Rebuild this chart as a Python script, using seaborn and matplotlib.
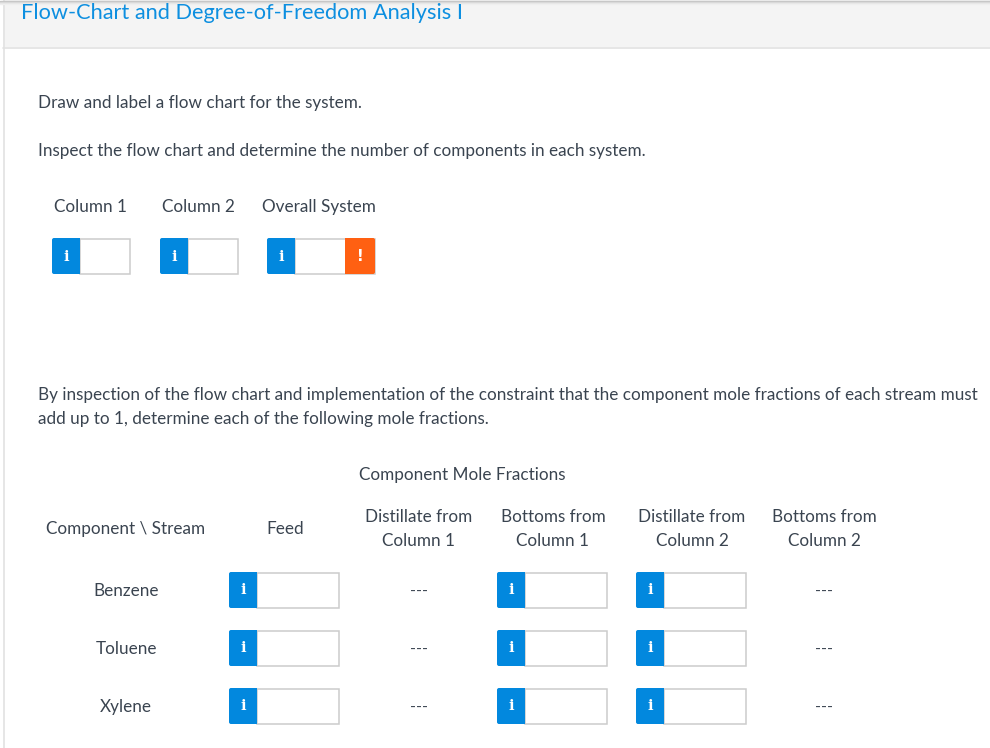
import matplotlib
matplotlib.use("Agg")
import matplotlib.pyplot as plt
from matplotlib.patches import Rectangle, FancyBboxPatch
import seaborn as sns

title = "Flow-Chart and Degree-of-Freedom Analysis I"
para_1 = "Draw and label a flow chart for the system."
para_2 = "Inspect the flow chart and determine the number of components in each system."
para_3 = ["By inspection of the flow chart and implementation of the constraint that the component mole fractions of each stream must",
          "add up to 1, determine each of the following mole fractions."]
system_labels = ["Column 1", "Column 2", "Overall System"]
table_title = "Component Mole Fractions"
row_header = "Component \\ Stream"
stream_labels = ["Feed", "Distillate from\nColumn 1", "Bottoms from\nColumn 1", "Distillate from\nColumn 2", "Bottoms from\nColumn 2"]
components = ["Benzene", "Toluene", "Xylene"]

BLUE = "#0288de"
ORANGE = "#ff6012"
TEXT = "#3a4450"
BORDER = "#cccccc"

sns.set_theme(style="white")
plt.rcParams["font.family"] = ["Lato", "DejaVu Sans"]

fig = plt.figure(figsize=(9.9, 7.48), dpi=100)
ax = fig.add_axes([0, 0, 1, 1])
ax.set_xlim(0, 990)
ax.set_ylim(748, 0)
ax.axis("off")


def write(x, y, s, size=12.35, color=TEXT, ha="left", **kw):
    ax.text(x, y + 1, s, fontsize=size, color=color, ha=ha, va="center", **kw)


def tab(x, y, w, h, color):
    # rounded tab, corners on one side get squared off by the rectangle in callers
    ax.add_patch(FancyBboxPatch((x + 2, y + 2), w - 4, h - 4, boxstyle="round,pad=2,rounding_size=2",
                                fc=color, ec="none"))


def input_box(x, y, w, h=36, info=28, flag=0):
    # white field with the blue info tab on the left
    ax.add_patch(Rectangle((x + info, y + 0.5), w - info - 0.5, h - 1, fc="white", ec=BORDER, lw=1.1))
    tab(x, y, info, h, BLUE)
    ax.add_patch(Rectangle((x + info - 5, y), 5, h, fc=BLUE, ec="none"))
    ax.text(x + info / 2, y + h / 2 + 0.5, "i", color="white", fontsize=10.5, fontweight="bold",
            family="DejaVu Serif", ha="center", va="center")
    if flag:
        tab(x + w - flag, y, flag, h, ORANGE)
        ax.add_patch(Rectangle((x + w - flag, y), 5, h, fc=ORANGE, ec="none"))
        ax.text(x + w - flag / 2, y + h / 2 + 0.5, "!", color="white", fontsize=10.5, fontweight="bold",
                family="DejaVu Sans", ha="center", va="center")


# page header
ax.add_patch(Rectangle((3, 0), 987, 47, fc="#f4f4f4", ec="none"))
ax.plot([3, 990], [47.5, 47.5], color="#e2e2e2", lw=1.2)
ax.plot([3.5, 3.5], [0, 748], color="#e2e2e2", lw=1.2)
for i, c in enumerate(["#c4c4c4", "#d6d6d6", "#e6e6e6", "#efefef"]):
    ax.plot([0, 990], [i + 0.5, i + 0.5], color=c, lw=1)
write(21, 12, title, size=15.7, color="#0d8fe0")

write(38, 102, para_1)
write(38, 150, para_2)

# number of components
for x, label in zip([54.5, 161.5, 262.5], system_labels):
    write(x, 205.5, label)
input_box(52, 238, 78)
input_box(160, 238, 78)
input_box(267, 238, 108, flag=30)

write(38, 394, para_3[0])
write(38, 418, para_3[1])

# mole fraction table
write(462, 474, table_title, ha="center")
write(126, 528, row_header, ha="center")
for x, label in zip([285, 419, 553, 692, 824], stream_labels):
    if "\n" in label:
        top, bottom = label.split("\n")
        write(x, 516, top, ha="center")
        write(x, 540, bottom, ha="center")
    else:
        write(x, 528, label, ha="center")

for y, comp in zip([572, 630, 688], components):
    write(126, y + 18, comp, ha="center")
    input_box(229, y, 110)
    input_box(497, y, 110)
    input_box(636, y, 110)
    for x in [419, 824]:
        write(x, y + 19, "---", size=11.5, ha="center")

fig.savefig("out.png", dpi=100)
